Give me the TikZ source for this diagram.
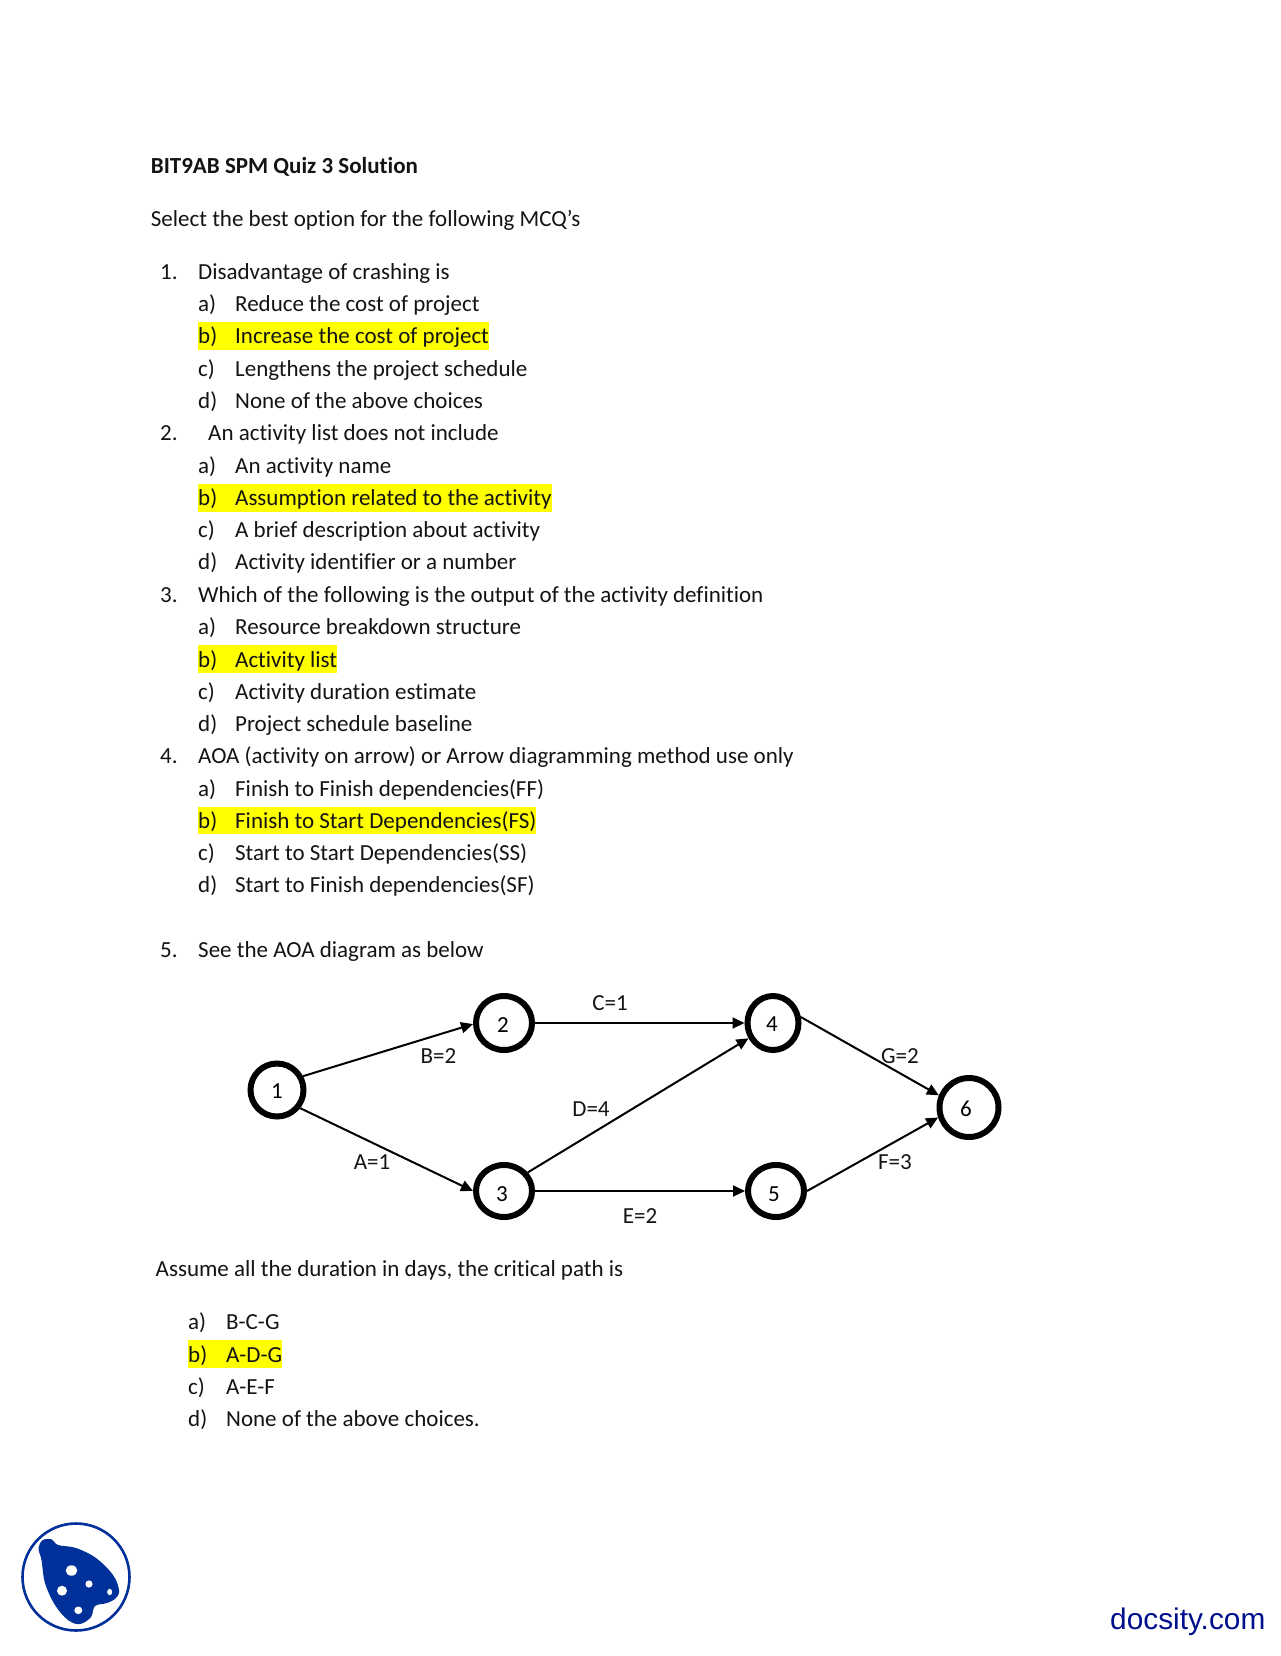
\documentclass[tikz,border=0pt]{standalone}
\usepackage{fontspec}
\setmainfont[Ligatures=NoCommon]{Carlito}
\newfontfamily\logofont{Liberation Sans}
\usetikzlibrary{shapes.geometric,arrows.meta}
\definecolor{hlyellow}{HTML}{FFFF00}
\definecolor{logoblue}{HTML}{00309A}
\definecolor{sitetext}{HTML}{000F8C}
\newcommand{\optline}[2]{\makebox[37pt][l]{#1}#2}
\newcommand{\optlineb}[2]{\makebox[38pt][l]{#1}#2}
\newcommand{\nudge}[3]{\kern#1pt\raisebox{-#2pt}[15pt][0pt]{#3}\kern-#1pt}
\tikzset{
  txt/.style={anchor=base west,inner sep=0pt,font=\fontsize{23}{28}\selectfont,text=black!92},
  hl/.style={txt,fill=hlyellow,text height=21.6pt,text depth=6pt},
  ttl/.style={txt,font=\fontsize{23}{28}\selectfont\bfseries},
  evt/.style={ellipse,draw=black,line width=6pt,fill=none,inner sep=0pt,font=\fontsize{23}{28}\selectfont},
  lab/.style={anchor=center,inner sep=0pt,font=\fontsize{23}{28}\selectfont,text=black!92},
  act/.style={draw=black,line width=2pt,-{Triangle[length=12pt,width=11pt]}},
  logohole/.style={fill=white,draw=none},
}
\begin{document}
\begin{tikzpicture}[x=1pt,y=-1pt]
\fill[white] (0,0) rectangle (1280,1656);
\useasboundingbox (0,0) rectangle (1280,1656);

\node[ttl] (title) at (150.7,173.4) {BIT9AB SPM Quiz 3 Solution};
\node[txt] (sel) at (150.7,226.2) {Select the best option for the following MCQ’s};

\node[txt] (n1) at (160,279.4) {1.};
\node[txt] (q1) at (198,279.4) {Disadvantage of crashing is};
\node[txt] (q1a) at (198,311.2) {\optline{a)}{Reduce the cost of project}};
\node[hl]  (q1b) at (198,343.6) {\optline{b)}{Increase the cost of project}};
\node[txt] (q1c) at (198,376) {\optline{c)}{Lengthens the project schedule}};
\node[txt] (q1d) at (198,408.8) {\optline{d)}{None of the above choices}};

\node[txt] (n2) at (160,440.8) {2.};
\node[txt] (q2) at (208,440.8) {An activity list does not include};
\node[txt] (q2a) at (198,473.2) {\optline{a)}{An activity name}};
\node[hl]  (q2b) at (198,505.5) {\optline{b)}{Assumption related to the activity}};
\node[txt] (q2c) at (198,537.5) {\optline{c)}{A brief description about activity}};
\node[txt] (q2d) at (198,569.7) {\optline{d)}{Activity identifier or a number}};

\node[txt] (n3) at (160,602.4) {3.};
\node[txt] (q3) at (198,602.4) {Which of the following is the output of the activity definition};
\node[txt] (q3a) at (198,634.7) {\optline{a)}{Resource breakdown structure}};
\node[hl]  (q3b) at (198,667) {\optline{b)}{Activity list}};
\node[txt] (q3c) at (198,699.2) {\optline{c)}{Activity duration estimate}};
\node[txt] (q3d) at (198,731.5) {\optline{d)}{Project schedule baseline}};

\node[txt] (n4) at (160,763.3) {4.};
\node[txt] (q4) at (198,763.3) {AOA (activity on arrow) or Arrow diagramming method use only};
\node[txt] (q4a) at (198,796.2) {\optline{a)}{Finish to Finish dependencies(FF)}};
\node[hl]  (q4b) at (198,828.4) {\optline{b)}{Finish to Start Dependencies(FS)}};
\node[txt] (q4c) at (198,860.3) {\optline{c)}{Start to Start Dependencies(SS)}};
\node[txt] (q4d) at (198,892.6) {\optline{d)}{Start to Finish dependencies(SF)}};

\node[txt] (n5) at (160,957) {5.};
\node[txt] (q5) at (198,957) {See the AOA diagram as below};

% AOA network
\node[evt,minimum width=53pt,minimum height=53pt] (e1) at (277,1090) {\nudge{0}{1}{1}};
\node[evt,minimum width=56pt,minimum height=54pt] (e2) at (504,1023) {\nudge{-1}{2}{2}};
\node[evt,minimum width=56pt,minimum height=52pt] (e3) at (504,1191) {\nudge{-2}{3}{3}};
\node[evt,minimum width=51pt,minimum height=54pt] (e4) at (773,1023) {\nudge{-1}{1}{4}};
\node[evt,minimum width=56pt,minimum height=52pt] (e5) at (776,1191) {\nudge{-2}{3}{5}};
\node[evt,minimum width=59pt,minimum height=59pt] (e6) at (969,1107.5) {\nudge{-3}{1}{6}};

\draw[act] (e1.28) -- (e2.182);
\draw[act] (e1.-38) -- (e3.west);
\draw[act] (e2.east) -- (e4.west);
\draw[act] (e3.38) -- (e4.212);
\draw[act] (e3.east) -- (e5.west);
\draw[act] (e4.12) -- (e6.158);
\draw[act] (e5.east) -- (e6.198);

\node[lab] (lc) at (610,1003) {C=1};
\node[lab] (lb) at (438.5,1056) {B=2};
\node[lab] (lg) at (900,1056) {G=2};
\node[lab] (ld) at (591,1109) {D=4};
\node[lab] (la) at (372,1162.5) {A=1};
\node[lab] (lf) at (895,1162.5) {F=3};
\node[lab] (le) at (640,1216) {E=2};

\node[txt] (ass) at (155.5,1276) {Assume all the duration in days, the critical path is};
\node[txt] (q5a) at (188,1329) {\optlineb{a)}{B-C-G}};
\node[hl]  (q5b) at (188,1362) {\optlineb{b)}{A-D-G}};
\node[txt] (q5c) at (188,1394) {\optlineb{c)}{A-E-F}};
\node[txt] (q5d) at (188,1426) {\optlineb{d)}{None of the above choices.}};

% logo
\draw[logoblue,line width=2.6pt] (76,1577) ellipse [x radius=53.5pt,y radius=53.5pt];
\fill[logoblue] plot[smooth cycle,tension=0.6] coordinates {
  (38.5,1548) (43,1540) (52,1539.5) (58,1545) (76,1548) (96,1558)
  (113,1575) (119,1590) (116,1598) (107,1603) (95,1606) (91,1617)
  (80,1624) (68,1620) (55,1605) (45,1583) (41.5,1560)};
\fill[logohole] (71.5,1570.5) ellipse [x radius=5.8pt,y radius=5.2pt];
\fill[logohole] (89,1584) circle [radius=3.6pt];
\fill[logohole] (62,1590.7) ellipse [x radius=5pt,y radius=5pt];
\fill[logohole] (109.7,1592) ellipse [x radius=2.5pt,y radius=3.2pt];
\fill[logohole] (78.3,1610.3) ellipse [x radius=4pt,y radius=3.8pt];
\node[anchor=base west,inner sep=0pt,text=sitetext,font=\logofont\fontsize{29.8}{32}\selectfont] (site) at (1110,1629) {docsity.com};
\end{tikzpicture}
\end{document}
